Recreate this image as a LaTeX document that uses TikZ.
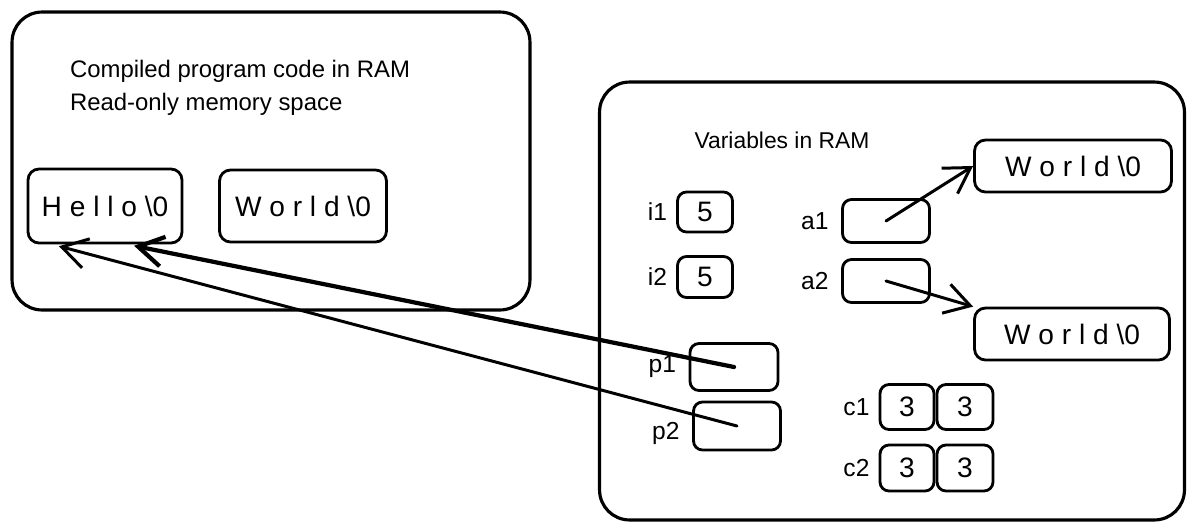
\documentclass[tikz,border=0pt]{standalone}
\usepackage{fontspec}
\setmainfont{Liberation Sans}
\usetikzlibrary{arrows.meta,positioning}

\begin{document}
\begin{tikzpicture}[x=0.02cm, y=-0.02cm,
  region/.style={draw, line width=1.8pt, rounded corners=0.6cm},
  strbox/.style={draw, line width=1.6pt, rounded corners=0.22cm,
                 font=\fontsize{16}{18}\selectfont},
  cell/.style={draw, line width=1.6pt, rounded corners=0.18cm,
               font=\fontsize{16}{18}\selectfont},
  lbl/.style={font=\fontsize{14}{16}\selectfont, inner sep=1pt},
  arr/.style={-{Straight Barb[length=5mm,width=6mm]}, line width=1.7pt, line cap=round},
]
  \useasboundingbox (0,0) rectangle (1200,531);

  % read-only area
  \node[region, minimum width=10.36cm, minimum height=5.96cm] (ro) at (271,161) {};
  \node[lbl, anchor=north west, align=left, font=\fontsize{13.6}{19}\selectfont] (rotitle) at (68,58)
    {Compiled program code in RAM\\Read-only memory space};
  \node[strbox, minimum width=3.08cm, minimum height=1.48cm] (hello) at (105,206) {H e l l o \textbackslash 0};
  \node[strbox, minimum width=3.34cm, minimum height=1.44cm] (wleft) at (303,206) {W o r l d \textbackslash 0};

  % variables area
  \node[region, minimum width=11.7cm, minimum height=8.76cm] (vars) at (892,301) {};
  \node[lbl, font=\fontsize{13}{15}\selectfont] (vartitle) at (782,140) {Variables in RAM};
  \node[strbox, minimum width=3.94cm, minimum height=1.04cm] (wtop) at (1073,166) {W o r l d \textbackslash 0};
  \node[strbox, minimum width=3.9cm, minimum height=1.04cm] (wbot) at (1072,334) {W o r l d \textbackslash 0};

  \node[cell, minimum width=1.1cm, minimum height=0.8cm] (i1box) at (705,212) {5};
  \node[cell, minimum width=1.1cm, minimum height=0.82cm] (i2box) at (705,277) {5};
  \node[lbl, left=4pt of i1box] (i1) {i1};
  \node[lbl, left=4pt of i2box] (i2) {i2};

  \node[cell, minimum width=1.74cm, minimum height=0.86cm] (a1box) at (886,221) {};
  \node[cell, minimum width=1.74cm, minimum height=0.86cm] (a2box) at (886,281) {};
  \node[lbl, left=6pt of a1box] (a1) {a1};
  \node[lbl, left=6pt of a2box] (a2) {a2};

  \node[cell, minimum width=1.76cm, minimum height=0.94cm] (p1box) at (734,367) {};
  \node[cell, minimum width=1.74cm, minimum height=0.96cm] (p2box) at (737,426) {};
  \node[lbl, left=6pt of p1box] (p1) {p1};
  \node[lbl, left=6pt of p2box, yshift=-4pt] (p2) {p2};

  \node[cell, minimum width=1.08cm, minimum height=0.9cm] (c1a) at (907,407) {3};
  \node[cell, minimum width=1.12cm, minimum height=0.9cm] (c1b) at (965,407) {3};
  \node[cell, minimum width=1.08cm, minimum height=0.92cm] (c2a) at (907,468) {3};
  \node[cell, minimum width=1.12cm, minimum height=0.92cm] (c2b) at (965,468) {3};
  \node[lbl, left=4pt of c1a] (c1) {c1};
  \node[lbl, left=4pt of c2a] (c2) {c2};

  % pointers
  \draw[arr] (a1box.center) -- (wtop.west);
  \draw[arr] (a2box.center) -- (wbot.north west);
  \draw[arr, line width=2.4pt, shorten >=4pt] (p1box.center) -- (hello.-60);
  \draw[arr, shorten >=4pt] (p2box.center) -- (hello.-144);
\end{tikzpicture}
\end{document}
